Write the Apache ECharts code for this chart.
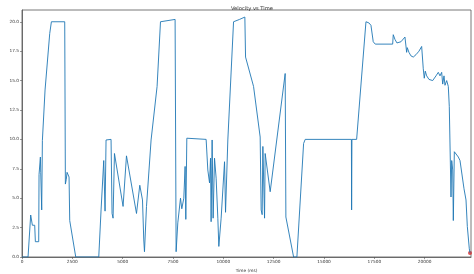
<!DOCTYPE html>
<html lang="en">
<head>
    <meta charset="UTF-8">
    <title>Velocity vs Time</title>
    <script src="https://cdn.jsdelivr.net/npm/echarts@6/dist/echarts.min.js"></script>
</head>
<body style="margin: 0;">
    <div id="echarts" style="width: 474px; height: 274px;"></div>
    <script>
        // time in ms
        const timeMs = [
            0, 300, 432, 515, 631, 664, 830, 846, 880, 913, 930, 979, 1012, 1145, 1377, 1460,
            2122, 2155, 2200, 2238, 2337, 2370, 2669,
            3812, 3927, 4060, 4125, 4175, 4423, 4473, 4523, 4592, 5020, 5089, 5189, 5686, 5850,
            5984, 6048, 6083, 6183, 6411, 6709, 6878, 7604, 7654, 7738, 7872, 7937, 8036, 8101,
            8136, 8186, 9145, 9229, 9314, 9363, 9393, 9443, 9493, 9562, 9642, 9726, 9776, 9890,
            10059, 10109, 10223, 10507, 10805, 11068, 11103, 11500, 11829, 11878, 11928, 11963,
            12047, 12077, 12326, 12375, 13071, 13106, 13489, 13653, 13986, 14065,
            16361, 16371, 16386, 16620, 17083, 17147, 17231, 17331, 17445, 17545,
            18409, 18439, 18523, 18622, 18687, 18821, 19020, 19104, 19134, 19218, 19317, 19433,
            19567, 19716, 19850, 19930, 19979, 20029, 20099, 20213, 20397, 20561, 20675, 20760,
            20844, 20894, 20959, 21008, 21093, 21173, 21222, 21307, 21342, 21392, 21422, 21472,
            21671, 21754, 21953, 22052, 22117, 22216, 22250
        ];
        // velocity
        const velocity = [
            0, 0, 3.57, 2.7, 2.7, 1.3, 1.3, 7.0, 7.1, 8.5, 7.2, 4.0, 9.9, 14.2, 19.0, 20.0,
            20.0, 6.2, 6.6, 7.2, 6.8, 3.1, 0,
            0, 4.0, 8.2, 3.9, 9.95, 10.0, 3.7, 3.3, 8.8, 4.3, 4.3, 8.6, 3.7, 6.1,
            4.85, 1.45, 0.45, 4.3, 9.95, 14.5, 20.0, 20.2, 0.45, 2.9, 5.0, 4.1, 5.0, 7.7,
            3.2, 10.1, 10.0, 7.4, 6.3, 8.4, 3.0, 9.95, 3.3, 8.4, 6.7, 3.3, 0.9, 3.3,
            8.1, 3.8, 9.95, 20.0, 20.2, 20.4, 17.0, 14.5, 10.2, 4.0, 3.6, 9.4,
            3.3, 8.8, 5.55, 5.55, 15.6, 3.4, 0, 0, 9.65, 10.0,
            10.0, 4.0, 10.0, 10.0, 20.0, 20.0, 19.9, 19.7, 18.3, 18.1,
            18.1, 18.9, 18.5, 18.2, 18.1, 18.3, 18.7, 17.4, 17.8, 17.4, 17.1, 17.0,
            17.2, 17.5, 17.9, 16.0, 15.2, 15.8, 15.4, 15.1, 15.0, 15.4, 15.7, 15.4,
            15.7, 14.7, 15.4, 14.6, 15.0, 14.5, 12.8, 5.1, 8.2, 7.4, 3.1, 8.95,
            8.5, 8.2, 5.8, 4.85, 2.6, 0.7, 0.35
        ];

        const lineData = timeMs.map((t, i) => [t, velocity[i]]);
        const lastPoint = lineData[lineData.length - 1];

        const textColor = '#333';
        const myChart = echarts.init(document.querySelector('#echarts'));
        const option = {
            animation: false,
            title: {
                text: 'Velocity vs Time',
                left: 247,
                textAlign: 'center',
                top: 1,
                textStyle: {fontSize: 5.2, fontWeight: 'normal', color: textColor, fontFamily: 'DejaVu Sans'}
            },
            grid: {
                left: 22, right: 3, top: 10, bottom: 17,
                show: true, borderColor: '#555', borderWidth: 0.8,
                containLabel: false,
                outerBoundsMode: 'none'
            },
            xAxis: {
                type: 'value',
                min: 0, max: 22300, interval: 2500,
                name: 'Time (ms)',
                nameLocation: 'middle',
                nameGap: 9,
                nameTextStyle: {fontSize: 4.3, color: textColor, fontFamily: 'DejaVu Sans'},
                splitLine: {show: false},
                axisLine: {lineStyle: {color: '#555', width: 0.8}},
                axisTick: {length: 2, lineStyle: {color: '#555', width: 0.6}},
                axisLabel: {
                    fontSize: 4.3, color: textColor, margin: 3, showMaxLabel: false, fontFamily: 'DejaVu Sans',
                    formatter: v => String(v)
                }
            },
            yAxis: {
                type: 'value',
                min: 0, max: 21, interval: 2.5,
                name: 'Velocity',
                nameLocation: 'middle',
                nameGap: 14,
                nameTextStyle: {fontSize: 4.3, color: textColor, fontFamily: 'DejaVu Sans'},
                splitLine: {show: false},
                axisLine: {show: true, lineStyle: {color: '#555', width: 0.8}},
                axisTick: {show: true, length: 2, lineStyle: {color: '#555', width: 0.6}},
                axisLabel: {
                    fontSize: 4.3, color: textColor, margin: 3, showMaxLabel: false, fontFamily: 'DejaVu Sans',
                    formatter: v => v.toFixed(1)
                }
            },
            series: [
                {
                    type: 'line',
                    data: lineData,
                    showSymbol: false,
                    lineStyle: {color: '#1f77b4', width: 0.9},
                    itemStyle: {color: '#1f77b4'}
                },
                {
                    type: 'scatter',
                    data: [lastPoint],
                    symbolSize: 4,
                    itemStyle: {color: '#d62728'}
                }
            ]
        };
        myChart.setOption(option);
    </script>
</body>
</html>
